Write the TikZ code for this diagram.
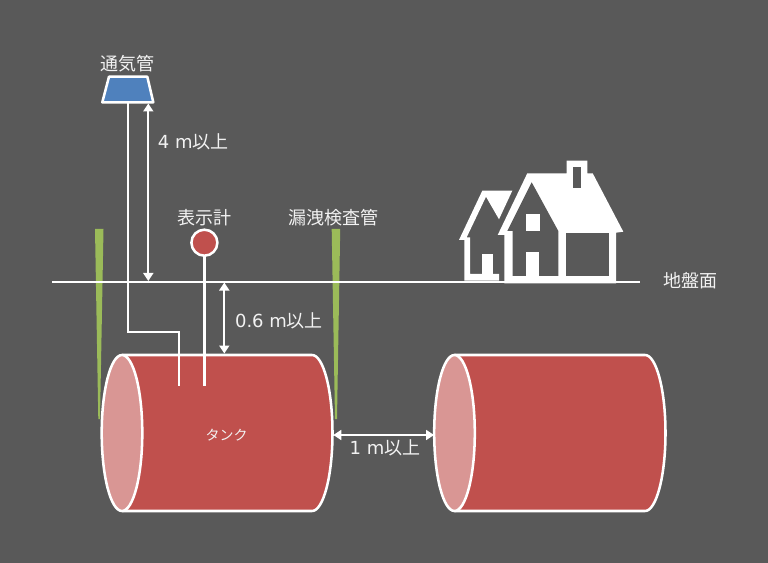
\documentclass[tikz,border=0pt]{standalone}
\usepackage{fontspec}
\setmainfont{Noto Sans CJK JP}
\newfontfamily\latinfont{DejaVu Sans}
\usepackage{xcolor}
\usetikzlibrary{arrows.meta}
\definecolor{bggrey}{HTML}{595959}
\definecolor{tankred}{HTML}{C0504D}
\definecolor{tanklight}{HTML}{D99694}
\definecolor{ventblue}{HTML}{4F81BD}
\definecolor{stakegreen}{HTML}{9BBB59}
\definecolor{labelgrey}{HTML}{F2F2F2}
\tikzset{
  pipeline/.style={draw=white,line width=1.7pt},
  shapeline/.style={draw=white,line width=1.9pt,line join=round},
  dimline/.style={draw=white,line width=1.3pt,{Triangle[length=6pt,width=7.5pt]}-{Triangle[length=6pt,width=7.5pt]}},
  stakeshape/.style={fill=stakegreen,draw=none},
  labeltext/.style={text=labelgrey,inner sep=0.75pt,font=\fontsize{13.5}{16}\selectfont},
}
\begin{document}
\begin{tikzpicture}[x=0.75pt,y=0.75pt,yscale=-1,xscale=1]
%Background
\fill[bggrey] (0,0) rectangle (768,563);
\useasboundingbox (0,0) rectangle (768,563);

%Shape: Stakes
\path[stakeshape] (95,229) -- (103.5,229) -- (100,419) -- (98.3,419) -- cycle ;
\path[stakeshape] (331.7,229) -- (340.2,229) -- (337,419) -- (335,419) -- cycle ;

%Shape: Tanks
\foreach \xa/\xb in {122/312,454.5/645}{
  \draw[shapeline,fill=tankred] (\xa,355) -- (\xb,355) arc[start angle=-90,end angle=90,x radius=20.5,y radius=78] -- (\xa,511) -- cycle ;
  \draw[shapeline,fill=tanklight] (\xa,433) ellipse [x radius=20.3,y radius=78];
}

%Shape: Vent
\coordinate (ventfoot) at (127.7,102.3);
\coordinate (ventbend) at (127.7,332);
\coordinate (tankbend) at (179,332);
\coordinate (ventend) at (179,386);
\draw[shapeline,fill=ventblue] (109,76.7) -- (147.3,76.7) -- (153.3,102.3) -- (102.3,102.3) -- cycle ;
\draw[pipeline] (ventfoot) -- (ventbend) -- (tankbend) -- (ventend) ;

%Shape: Indicator
\coordinate (gaugetop) at (204.4,256);
\coordinate (gaugeend) at (204.4,386);
\draw[pipeline] (gaugetop) -- (gaugeend) ;
\draw[shapeline,fill=tankred] (204.4,242.7) circle (13) ;

%Shape: Ground
\coordinate (groundleft) at (52,281.7);
\coordinate (groundright) at (639.5,281.7);
\draw[pipeline] (groundleft) -- (groundright) ;

%Shape: House, small one
\fill[white] (482.3,190.7) -- (512.3,190.7) -- (499,219.3) -- (486,196.7) -- (466.7,237.3) -- (470,237.3) -- (470,274) -- (499,274) -- (499,280.7) -- (464.3,280.7) -- (464.3,240) -- (459,240) -- cycle ;
\fill[white] (482.3,254.3) rectangle (493.3,274) ;
%Shape: House, big one
\fill[white] (566.7,160.7) -- (587.3,160.7) -- (587.3,173.3) -- (592.7,173.3) -- (623.3,231.7) -- (616,232.7) -- (616,283.3) -- (504.3,283.3) -- (504.3,235) -- (497.7,235) -- (527.3,173.3) -- (566.7,173.3) -- cycle ;
\fill[bggrey] (531.7,182.3) -- (558.3,231) -- (558.3,276) -- (512.7,276) -- (512.7,231) -- (507.3,231) -- cycle ;
\fill[bggrey] (566,232.7) rectangle (608.7,276) ;
\fill[bggrey] (572.7,166.7) rectangle (580.7,188.3) ;
\fill[white] (526.3,214.3) rectangle (539.7,231) ;
\fill[white] (526.3,251.7) rectangle (539.3,276) ;

%Shape: Dimensions
\coordinate (ventarrow) at (148.3,103.5);
\coordinate (groundarrow) at (148.3,281);
\coordinate (depthtop) at (224.3,282.5);
\coordinate (depthend) at (224.3,353.5);
\coordinate (gapleft) at (333.3,435);
\coordinate (gapright) at (434,435);
\draw[dimline] (ventarrow) -- (groundarrow) ;
\draw[dimline] (depthtop) -- (depthend) ;
\draw[dimline] (gapleft) -- (gapright) ;

% Text Node
\node[labeltext] (ventlabel) at (127.5,64) {通気管};
% Text Node
\node[labeltext] (gaugelabel) at (204,218) {表示計};
% Text Node
\node[labeltext] (leaklabel) at (333,218) {漏洩検査管};
% Text Node
\node[labeltext] (groundlabel) at (690.5,281) {地盤面};
% Text Node
\node[labeltext] (heightlabel) at (193.3,141.7) {{\latinfont 4 m}以上};
% Text Node
\node[labeltext] (depthlabel) at (279,320.7) {{\latinfont 0.6 m}以上};
% Text Node
\node[labeltext] (gaplabel) at (385,448) {{\latinfont 1 m}以上};
% Text Node
\node[labeltext,font=\fontsize{10.5}{12}\selectfont] (tanklabel) at (226.7,435) {タンク};
\end{tikzpicture}
\end{document}
